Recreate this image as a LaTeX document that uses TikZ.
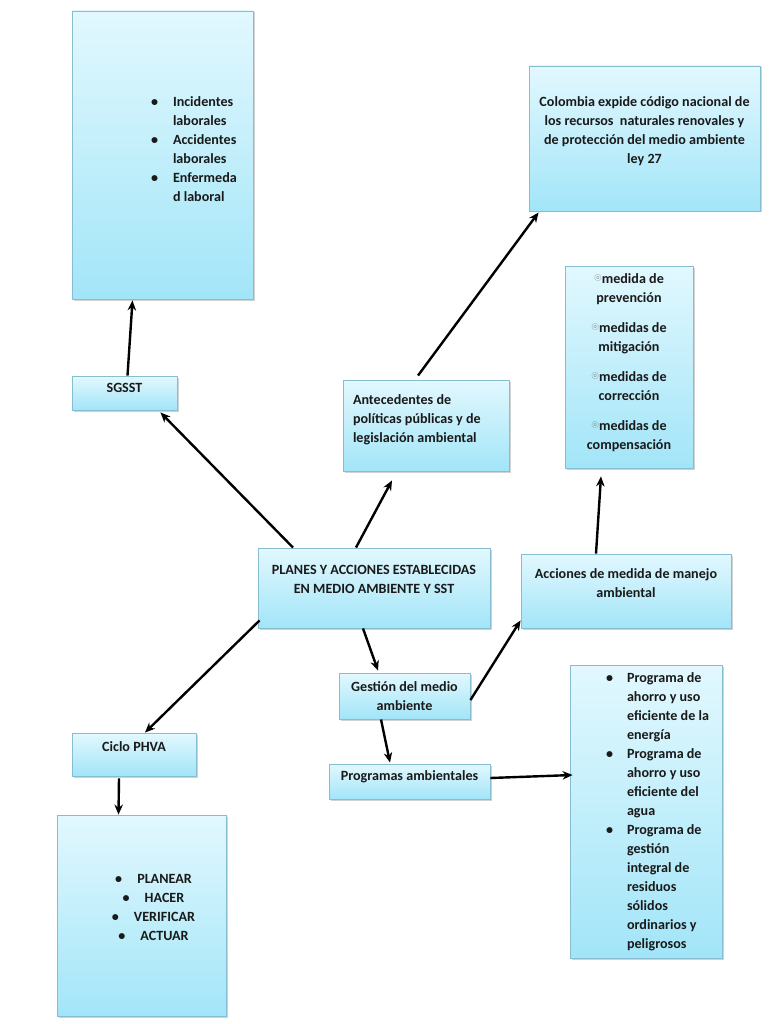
\documentclass[tikz,border=0pt]{standalone}
\usepackage{fontspec}
\usepackage{amssymb}
\setmainfont{Carlito}
\usepackage{tikz}
\usetikzlibrary{arrows.meta,shadows}

\definecolor{boxtop}{HTML}{E2F8FE}
\definecolor{boxbot}{HTML}{A2E5F8}
\definecolor{boxline}{HTML}{86BDD0}
\definecolor{ink}{HTML}{1A1A1A}
\newcommand{\medmark}{\raisebox{.45ex}{\textcolor{gray!80!black}{$\scriptstyle\circledcirc$}}}

\begin{document}
\begin{tikzpicture}[x=1pt, y=-1pt,
    box/.style={draw=boxline, line width=0.9pt, top color=boxtop, bottom color=boxbot, text=ink, inner sep=0pt, align=center, font=\fontsize{14.1pt}{19pt}\selectfont\bfseries, drop shadow={opacity=0.35, shadow xshift=1.5pt, shadow yshift=-1.5pt}},
    arrow/.style={-{Stealth[length=10pt,width=8.5pt]}, line width=2.4pt, black}
]
\useasboundingbox[fill=white] (0,0) rectangle (768,1024);

\node[box, minimum width=181pt, minimum height=288pt, text width=181pt, align=left] (riesgos) at (162.5,155) {\spaceskip=0pt\xspaceskip=0pt\hspace*{79pt}\begin{tabular}{@{}l@{\hspace{15pt}}l@{}}
\textbullet & Incidentes\\ & laborales\\ \textbullet & Accidentes\\ & laborales\\ \textbullet & Enfermeda\\ & d laboral
\end{tabular}\par\vspace*{10pt}};
\node[box, minimum width=231pt, minimum height=145pt] (codigo) at (644.5,138.5) {Colombia expide código nacional de\\los recursos~ naturales renovales y\\de protección del medio ambiente\\ley 27\\[-2pt]};
\node[box, minimum width=128pt, minimum height=202pt] (medidas) at (629,367) {\medmark medida de\\prevención\\[11pt]\medmark medidas de\\mitigación\\[11pt]\medmark medidas de\\corrección\\[11pt]\medmark medidas de\\compensación\\[-9pt]};
\node[box, minimum width=105pt, minimum height=34pt] (sgsst) at (124.5,393) {SGSST\\[-9pt]};
\node[box, minimum width=166pt, minimum height=91pt, text width=146pt, align=left] (antecedentes) at (426,425.5) {\spaceskip=0pt\xspaceskip=0pt Antecedentes de\\políticas públicas y de\\legislación ambiental\par\vspace*{12pt}};
\node[box, minimum width=232pt, minimum height=80pt] (planes) at (374,588) {PLANES Y ACCIONES ESTABLECIDAS\\EN MEDIO AMBIENTE Y SST\\[-2pt]};
\node[box, minimum width=210pt, minimum height=74pt] (acciones) at (626,591) {Acciones de medida de manejo\\ambiental\\[-4pt]};
\node[box, minimum width=131pt, minimum height=46pt] (gestion) at (404.5,696) {Gestión del medio\\ambiente};
\node[box, minimum width=124pt, minimum height=43pt] (ciclo) at (134,754.5) {Ciclo PHVA\\[-4pt]};
\node[box, minimum width=161pt, minimum height=35pt] (programas) at (409.5,781.5) {Programas ambientales\\[-8pt]};
\node[box, minimum width=152pt, minimum height=293pt, text width=152pt, align=left] (programaslista) at (646,811.5) {\spaceskip=0pt\xspaceskip=0pt\hspace*{36pt}\begin{tabular}{@{}l@{\hspace{14pt}}l@{}}
\textbullet & Programa de\\ & ahorro y uso\\ & eficiente de la\\ & energía\\
\textbullet & Programa de\\ & ahorro y uso\\ & eficiente del\\ & agua\\
\textbullet & Programa de\\ & gestión\\ & integral de\\ & residuos\\ & sólidos\\ & ordinarios y\\ & peligrosos
\end{tabular}};
\node[box, minimum width=169pt, minimum height=201pt] (phva) at (141.5,915.5) {\begin{tabular}{@{\hspace{24pt}}c@{}}
\textbullet\hspace{15pt}PLANEAR\\\textbullet\hspace{15pt}HACER\\\textbullet\hspace{15pt}VERIFICAR\\\textbullet\hspace{15pt}ACTUAR
\end{tabular}\\[13pt]};

\draw[arrow] ([xshift=3pt]sgsst.north) -- ([xshift=-30pt,yshift=-1pt]riesgos.south);
\draw[arrow] ([xshift=-81pt]planes.north) -- ([xshift=-17pt,yshift=-2pt]sgsst.south east);
\draw[arrow] ([xshift=-18pt]planes.north) -- ([xshift=-34pt,yshift=-9pt]antecedentes.south);
\draw[arrow] ([xshift=-8pt,yshift=4pt]antecedentes.north) -- ([xshift=10pt,yshift=-1pt]codigo.south west);
\draw[arrow] ([xshift=2pt,yshift=8pt]planes.south west) -- ([xshift=11pt]ciclo.north);
\draw[arrow] ([xshift=-15pt,yshift=-2pt]ciclo.south) -- ([xshift=-23pt]phva.north);
\draw[arrow] ([xshift=-11pt]planes.south) -- ([xshift=-26.5pt,yshift=2pt]gestion.north);
\draw[arrow] ([yshift=-4pt]gestion.east) -- ([yshift=8pt]acciones.south west);
\draw[arrow] ([xshift=-23.5pt]gestion.south) -- ([xshift=-19.5pt,yshift=1pt]programas.north);
\draw[arrow] ([yshift=3.5pt]programas.east) -- ([xshift=3pt,yshift=36.5pt]programaslista.west);
\draw[arrow] ([xshift=-30pt]acciones.north) -- ([xshift=-28pt,yshift=-8pt]medidas.south);
\end{tikzpicture}
\end{document}
